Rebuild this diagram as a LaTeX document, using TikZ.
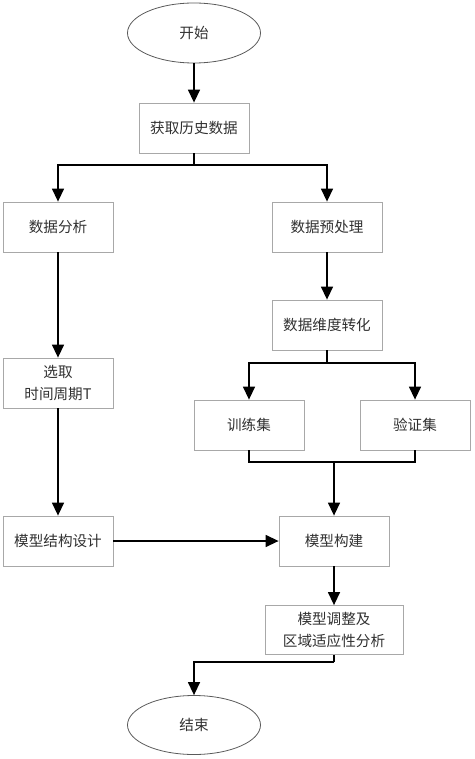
\documentclass[tikz,border=0pt]{standalone}
\usepackage{fontspec}
\usepackage{xcolor}
\usetikzlibrary{shapes.geometric,arrows.meta}
\newfontfamily\cjk{Noto Sans CJK SC}
\definecolor{fcgray}{HTML}{A8A8A8}
\definecolor{fcdark}{HTML}{5A5A5A}
\definecolor{fctext}{HTML}{303030}

\begin{document}
\begin{tikzpicture}[x=1pt, y=-1pt,
  stepbox/.style={draw=fcgray, line width=0.8pt, minimum width=110pt, minimum height=50pt, inner sep=1pt, align=center, text=fctext, font=\cjk\fontsize{14.6}{22}\selectfont},
  termnode/.style={ellipse, draw=fcdark, line width=0.8pt, minimum width=133pt, minimum height=60pt, inner sep=0pt, text=fctext, font=\cjk\fontsize{14.6}{22}\selectfont},
  link/.style={draw=black, line width=1.4pt},
  arr/.style={link, -{Triangle[length=13pt, width=12pt]}}]
  \useasboundingbox (0,0) rectangle (474,759);
  % nodes
  \node[termnode] (start) at (194,33) {开始};
  \node[stepbox] (fetch) at (194,128) {获取历史数据};
  \node[stepbox] (analyse) at (58,227) {数据分析};
  \node[stepbox] (prep) at (327,227) {数据预处理};
  \node[stepbox] (dimconv) at (327,325) {数据维度转化};
  \node[stepbox] (period) at (58,383) {选取\\时间周期T};
  \node[stepbox] (train) at (249,425) {训练集};
  \node[stepbox] (valid) at (415,425) {验证集};
  \node[stepbox] (design) at (58,541) {模型结构设计};
  \node[stepbox] (build) at (334,541) {模型构建};
  \node[stepbox, minimum width=138pt, minimum height=49pt] (tune) at (334,630) {模型调整及\\区域适应性分析};
  \node[termnode, minimum height=59pt] (finish) at (194,725) {结束};
  % junctions
  \coordinate (split1) at (194,165);
  \coordinate (split2) at (327,363);
  \coordinate (merge) at (334,462);
  \coordinate (bend) at (334,662);
  % connectors
  \draw[arr] (start) -- (fetch);
  \draw[link] (fetch.south) -- (split1);
  \draw[arr] (split1) -| (analyse.north);
  \draw[arr] (split1) -| (prep.north);
  \draw[arr] (analyse) -- (period);
  \draw[arr] (period) -- (design);
  \draw[arr] (prep) -- (dimconv);
  \draw[link] (dimconv.south) -- (split2);
  \draw[arr] (split2) -| (train.north);
  \draw[arr] (split2) -| (valid.north);
  \draw[link] (train.south) |- (merge) -| (valid.south);
  \draw[arr] (merge) -- (build.north);
  \draw[arr] (design) -- (build);
  \draw[arr] (build) -- (tune);
  \draw[link] (tune.south) -- (bend);
  \draw[arr] (bend) -| (finish.north);
\end{tikzpicture}
\end{document}
